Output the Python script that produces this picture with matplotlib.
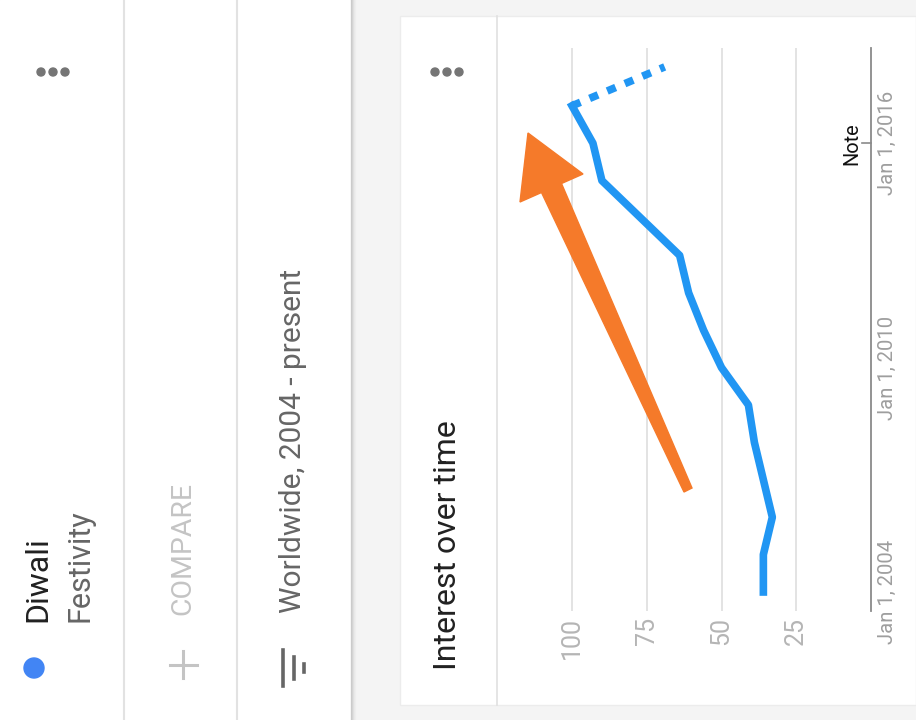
import numpy as np
import matplotlib
matplotlib.use("Agg")
import matplotlib.pyplot as plt
from matplotlib.patches import Rectangle, Polygon, Circle

plt.rcParams['font.family'] = ['Roboto', 'DejaVu Sans']

years = [2004, 2005, 2006, 2007, 2008, 2009, 2010, 2011, 2012, 2013, 2014, 2015, 2016, 2017]
interest = [36, 36, 33, 36, 39, 41, 50, 56, 61, 64, 77, 90, 93, 100]
partial_years = [2017, 2018.04]
partial_interest = [100, 69]

value_ticks = [25, 50, 75, 100]
value_labels = ["25", "50", "75", "100"]
date_ticks = [2004, 2010, 2016]
date_labels = ["Jan 1, 2004", "Jan 1, 2010", "Jan 1, 2016"]

W, H = 916, 720
fig = plt.figure(figsize=(W / 100, H / 100), dpi=100)

"""fond : on travaille en pixels de l'image"""
bg = fig.add_axes([0, 0, 1, 1], zorder=0)
bg.set_xlim(0, W)
bg.set_ylim(H, 0)
bg.axis('off')
bg.add_patch(Rectangle((0, 0), W, H, color='#f4f4f4'))
bg.add_patch(Rectangle((0, 0), 350, H, color='white'))
for k, a in enumerate([0.35, 0.22, 0.12, 0.06, 0.03]):
    bg.plot([350.5 + k, 350.5 + k], [0, H], color='#888888', alpha=a, lw=1)
bg.plot([124, 124], [0, H], color='#e2e2e2', lw=1.5)
bg.plot([237, 237], [0, H], color='#e2e2e2', lw=1.5)
bg.add_patch(Rectangle((400, 16), W - 400, 689, facecolor='white', edgecolor='#ececec', lw=1))
bg.plot([497, 497], [16, 705], color='#e0e0e0', lw=1.2)

# menus "..."
for cx in [53, 447]:
    for dx in [-12, 0, 12]:
        bg.add_patch(Circle((cx + dx, 72), 4, color='#757575'))

# panneau gauche
bg.add_patch(Circle((34, 668), 10, color='#4285f4'))
bg.text(38, 622, "Diwali", rotation=90, ha='center', va='bottom', fontsize=23, color='#212121')
bg.text(80, 622, "Festivity", rotation=90, ha='center', va='bottom', fontsize=22, color='#666666')
bg.plot([183, 183], [651, 678], color='#c4c4c4', lw=2.2)
bg.plot([170, 197], [664.5, 664.5], color='#c4c4c4', lw=2.2)
bg.text(183, 615, "COMPARE", rotation=90, ha='center', va='bottom', fontsize=20.5, color='#c4c4c4')
bg.plot([283, 283], [650, 686], color='#666666', lw=2.6)
bg.plot([294, 294], [657, 679], color='#666666', lw=2.6)
bg.plot([304, 304], [664, 672], color='#666666', lw=2.6)
bg.text(293, 613, "Worldwide, 2004 - present", rotation=90, ha='center', va='bottom', fontsize=21.5,
        color='#666666')
bg.text(448, 670, "Interest over time", rotation=90, ha='center', va='bottom', fontsize=23, color='#212121')

"""le graphique, tourné : valeur en x (inversée), temps en y"""
ax_l, ax_r, ax_t, ax_b = 497, 871, 48, 611
ax = fig.add_axes([ax_l / W, 1 - ax_b / H, (ax_r - ax_l) / W, (ax_b - ax_t) / H], zorder=1)
ax.patch.set_alpha(0)
px_per_unit = 2.99
ax.set_xlim((ax_r - ax_l) / px_per_unit, 0)
px_per_year = 37.4
ax.set_ylim(2004 - (ax_b - 592) / px_per_year, 2004 + (592 - ax_t) / px_per_year)

for v in value_ticks:
    ax.axvline(v, color='#e0e0e0', lw=1.3, zorder=1)
ax.plot(interest, years, color='#2196f3', lw=5.5, solid_joinstyle='round', zorder=3)
ax.plot(partial_interest, partial_years, color='#2196f3', lw=5.5, linestyle=(0, (1.2, 1.3)),
        dash_capstyle='butt', zorder=3)

for s in ['top', 'left', 'bottom']:
    ax.spines[s].set_visible(False)
ax.spines['right'].set_color('#8a8a8a')
ax.spines['right'].set_linewidth(1.3)

ax.set_xticks(value_ticks)
ax.set_xticklabels(value_labels, rotation=90, fontsize=18, color='#b5b5b5')
ax.tick_params(axis='x', length=0, pad=4)
ax.yaxis.tick_right()
ax.set_yticks(date_ticks)
ax.set_yticklabels(date_labels, rotation=90, va='center', fontsize=14.6, color='#9e9e9e')
ax.tick_params(axis='y', length=0, pad=5)

ax.plot([3, 0], [2016, 2016], color='#8a8a8a', lw=1.2, clip_on=False)
ax.text(6.4, 2016, "Note", rotation=90, ha='center', va='center', fontsize=14.4, color='#111111')

# la flèche orange, en pixels
arrow = Polygon([(684, 492), (541.5, 192.5), (520, 202), (528, 133), (583, 174), (561.5, 183.5), (692, 488)],
                closed=True, color='#f57a2a', transform=bg.transData, clip_on=False, zorder=5)
ax.add_patch(arrow)

fig.savefig("out.png", dpi=100)
